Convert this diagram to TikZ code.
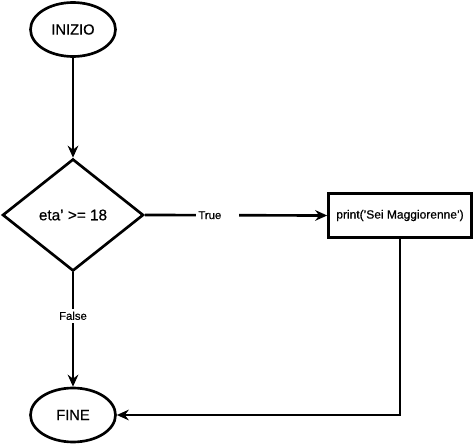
\documentclass[tikz,border=0pt]{standalone}
\usepackage{fontspec}
\setmainfont{Liberation Sans}[FakeBold=0.6]
\usetikzlibrary{shapes.geometric,arrows.meta}
\begin{document}
\begin{tikzpicture}[x=0.75pt,y=-0.75pt,
  every path/.style={line width=2pt},
  term/.style={draw,ellipse,minimum width=85*0.75pt,minimum height=54*0.75pt,inner sep=0pt,font=\fontsize{11}{13}\selectfont},
  decis/.style={draw,diamond,minimum width=141*0.75pt,minimum height=112*0.75pt,inner sep=0pt,aspect=1.26,font=\fontsize{11.5}{13}\selectfont},
  proc/.style={draw,rectangle,minimum width=143*0.75pt,minimum height=44*0.75pt,inner sep=0pt,font=\fontsize{9}{11}\selectfont},
  conn/.style={-{Stealth[length=9pt,width=8pt,inset=3pt]}},
  lbl/.style={fill=white,inner xsep=1.5pt,inner ysep=2pt,font=\fontsize{8.5}{10}\selectfont}]
\useasboundingbox (0,0) rectangle (474,445);
\node[term] (start) at (73,29.5) {INIZIO};
\node[decis] (cond) at (73,215) {eta' >= 18};
\node[proc] (pr) at (400,215.5) {print('Sei Maggiorenne')};
\node[term] (fine) at (73,415) {FINE};
\coordinate (corner) at (pr.south |- fine.east);
\draw[conn] (start) -- (cond.north);
\draw[conn] (cond.east) -- node[lbl,pos=0.40,text width=29pt,align=left] {True} (pr.west);
\draw[conn] (cond.south) -- node[lbl,pos=0.38] {False} (fine.north);
\draw[conn] (pr.south) -- (corner) -- (fine.east);
\end{tikzpicture}
\end{document}
